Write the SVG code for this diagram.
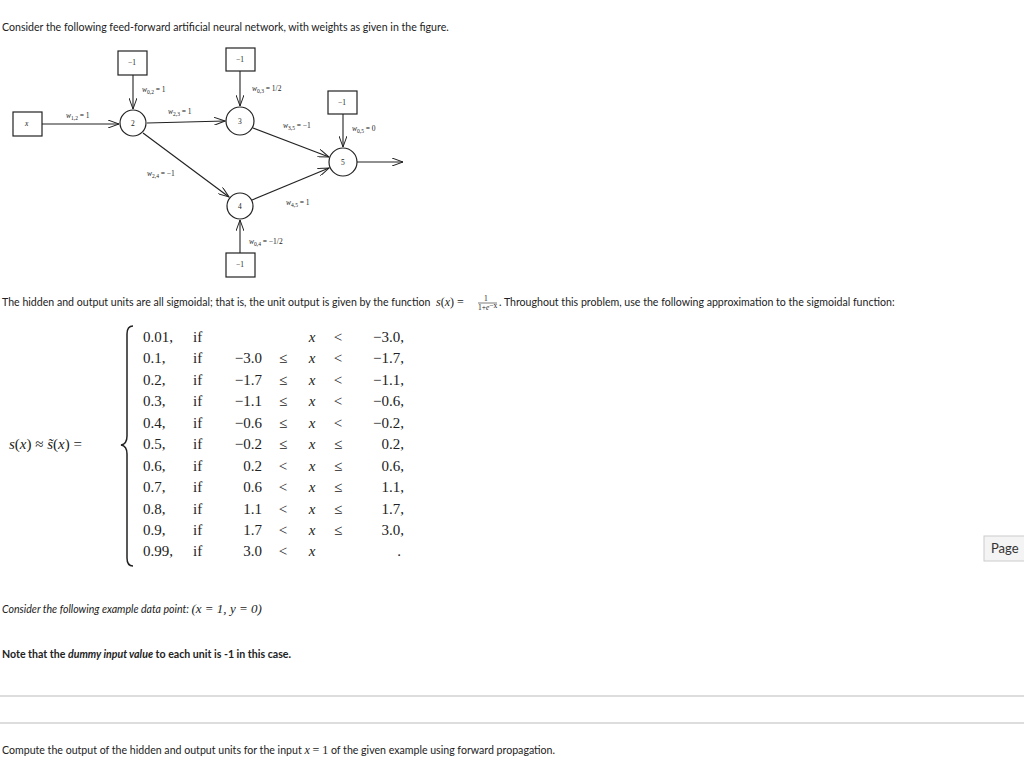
<svg xmlns="http://www.w3.org/2000/svg" width="1024" height="782" viewBox="0 0 1024 782">
<style>
.t{font-family:Lato,"Liberation Sans",sans-serif;font-size:10.6px;fill:#222}
.m{font-family:"Liberation Serif",serif;font-size:15px;fill:#222}
.mi{font-family:"Liberation Serif",serif;font-size:15px;font-style:italic;fill:#222}
.s{font-family:"Liberation Serif",serif;font-size:7.5px;fill:#222}
.si{font-family:"Liberation Serif",serif;font-size:7.5px;font-style:italic;fill:#222}
.n rect,.n circle{fill:#fff;stroke:#222;stroke-width:1.2}
.c line{stroke:#222;stroke-width:1.1;marker-end:url(#a)}
.sub{font-size:5.5px}
</style>
<defs><marker id="a" markerWidth="12" markerHeight="8" refX="11" refY="4" orient="auto" markerUnits="userSpaceOnUse"><path d="M0,0 L11,4 L0,8" fill="none" stroke="#222" stroke-width="1"/></marker></defs>
<rect width="1024" height="782" fill="#fff"/>
<text class="t" x="2" y="31">Consider the following feed-forward artificial neural network, with weights as given in the figure.</text>
<g class="c">
<line x1="42" y1="124" x2="119" y2="124"/>
<line x1="133" y1="75" x2="133" y2="109"/>
<line x1="147" y1="123" x2="225" y2="121"/>
<line x1="240" y1="71" x2="240" y2="106"/>
<line x1="143" y1="133" x2="229" y2="197"/>
<line x1="253" y1="128" x2="329" y2="157"/>
<line x1="252" y1="200" x2="329" y2="168"/>
<line x1="240" y1="253" x2="240" y2="220"/>
<line x1="343" y1="114" x2="343" y2="147"/>
<line x1="357" y1="162" x2="403" y2="162"/>
</g>
<g id="nx" class="n"><rect x="13" y="112" width="29" height="24"/><text class="si" x="25" y="126">x</text></g>
<g id="b2" class="n"><rect x="118" y="51" width="29" height="24"/><text class="s" x="128" y="65">−1</text></g>
<g id="b3" class="n"><rect x="226" y="48" width="29" height="23"/><text class="s" x="236" y="62">−1</text></g>
<g id="b5" class="n"><rect x="328" y="91" width="29" height="23"/><text class="s" x="338" y="105">−1</text></g>
<g id="b4" class="n"><rect x="226" y="253" width="29" height="24"/><text class="s" x="236" y="267">−1</text></g>
<g id="n2" class="n"><circle cx="133" cy="123" r="13"/><text class="s" x="131" y="126">2</text></g>
<g id="n3" class="n"><circle cx="240" cy="121" r="14"/><text class="s" x="238" y="124">3</text></g>
<g id="n4" class="n"><circle cx="240" cy="206" r="13"/><text class="s" x="238" y="209">4</text></g>
<g id="n5" class="n"><circle cx="343" cy="162" r="14"/><text class="s" x="341" y="165">5</text></g>
<g id="labels">
<text class="s" x="66" y="118"><tspan font-style="italic">w</tspan><tspan class="sub" dy="1.5">1,2</tspan><tspan dy="-1.5"> = 1</tspan></text>
<text class="s" x="142" y="92"><tspan font-style="italic">w</tspan><tspan class="sub" dy="1.5">0,2</tspan><tspan dy="-1.5"> = 1</tspan></text>
<text class="s" x="168" y="114"><tspan font-style="italic">w</tspan><tspan class="sub" dy="1.5">2,3</tspan><tspan dy="-1.5"> = 1</tspan></text>
<text class="s" x="252" y="91"><tspan font-style="italic">w</tspan><tspan class="sub" dy="1.5">0,3</tspan><tspan dy="-1.5"> = 1/2</tspan></text>
<text class="s" x="283" y="128"><tspan font-style="italic">w</tspan><tspan class="sub" dy="1.5">3,5</tspan><tspan dy="-1.5"> = −1</tspan></text>
<text class="s" x="352" y="131"><tspan font-style="italic">w</tspan><tspan class="sub" dy="1.5">0,5</tspan><tspan dy="-1.5"> = 0</tspan></text>
<text class="s" x="147" y="176"><tspan font-style="italic">w</tspan><tspan class="sub" dy="1.5">2,4</tspan><tspan dy="-1.5"> = −1</tspan></text>
<text class="s" x="286" y="205"><tspan font-style="italic">w</tspan><tspan class="sub" dy="1.5">4,5</tspan><tspan dy="-1.5"> = 1</tspan></text>
<text class="s" x="249" y="244"><tspan font-style="italic">w</tspan><tspan class="sub" dy="1.5">0,4</tspan><tspan dy="-1.5"> = −1/2</tspan></text>
</g>
<text class="t" x="2" y="306">The hidden and output units are all sigmoidal; that is, the unit output is given by the function</text>
<text x="436" y="306" font-family="Liberation Serif" font-size="12" fill="#222"><tspan font-style="italic">s</tspan>(<tspan font-style="italic">x</tspan>) =</text>
<text class="s" x="484" y="301">1</text>
<line x1="478" y1="303" x2="497" y2="303" stroke="#222" stroke-width="0.6"/>
<text class="s" x="478" y="310" font-size="6">1+<tspan font-style="italic">e</tspan><tspan dy="-2">−x</tspan></text>
<text class="t" x="499" y="306">. Throughout this problem, use the following approximation to the sigmoidal function:</text>
<text class="mi" x="9" y="449">s<tspan font-style="normal">(</tspan>x<tspan font-style="normal">) ≈ </tspan>s̃<tspan font-style="normal">(</tspan>x<tspan font-style="normal">) =</tspan></text>
<path d="M133,326 Q127,326 127,334 L127,436 Q127,444 121,445 Q127,446 127,454 L127,558 Q127,566 133,566" fill="none" stroke="#222" stroke-width="1.5"/>
<g class="m">
<text x="143" y="342">0.01,</text><text x="143" y="363">0.1,</text><text x="143" y="385">0.2,</text><text x="143" y="406">0.3,</text><text x="143" y="428">0.4,</text><text x="143" y="449">0.5,</text><text x="143" y="471">0.6,</text><text x="143" y="492">0.7,</text><text x="143" y="514">0.8,</text><text x="143" y="535">0.9,</text><text x="143" y="556">0.99,</text>
</g>
<g class="m"><text x="193" y="342">if</text><text x="193" y="363">if</text><text x="193" y="385">if</text><text x="193" y="406">if</text><text x="193" y="428">if</text><text x="193" y="449">if</text><text x="193" y="471">if</text><text x="193" y="492">if</text><text x="193" y="514">if</text><text x="193" y="535">if</text><text x="193" y="556">if</text></g>
<g class="m" text-anchor="end"><text x="262" y="363">−3.0</text><text x="262" y="385">−1.7</text><text x="262" y="406">−1.1</text><text x="262" y="428">−0.6</text><text x="262" y="449">−0.2</text><text x="262" y="471">0.2</text><text x="262" y="492">0.6</text><text x="262" y="514">1.1</text><text x="262" y="535">1.7</text><text x="262" y="556">3.0</text></g>
<g class="m" text-anchor="middle"><text x="283" y="363">≤</text><text x="283" y="385">≤</text><text x="283" y="406">≤</text><text x="283" y="428">≤</text><text x="283" y="449">≤</text><text x="283" y="471">&lt;</text><text x="283" y="492">&lt;</text><text x="283" y="514">&lt;</text><text x="283" y="535">&lt;</text><text x="283" y="556">&lt;</text></g>
<g class="mi" text-anchor="middle"><text x="312" y="342">x</text><text x="312" y="363">x</text><text x="312" y="385">x</text><text x="312" y="406">x</text><text x="312" y="428">x</text><text x="312" y="449">x</text><text x="312" y="471">x</text><text x="312" y="492">x</text><text x="312" y="514">x</text><text x="312" y="535">x</text><text x="312" y="556">x</text></g>
<g class="m" text-anchor="middle"><text x="338" y="342">&lt;</text><text x="338" y="363">&lt;</text><text x="338" y="385">&lt;</text><text x="338" y="406">&lt;</text><text x="338" y="428">&lt;</text><text x="338" y="449">≤</text><text x="338" y="471">≤</text><text x="338" y="492">≤</text><text x="338" y="514">≤</text><text x="338" y="535">≤</text></g>
<g class="m" text-anchor="end"><text x="404" y="342">−3.0,</text><text x="404" y="363">−1.7,</text><text x="404" y="385">−1.1,</text><text x="404" y="406">−0.6,</text><text x="404" y="428">−0.2,</text><text x="404" y="449">0.2,</text><text x="404" y="471">0.6,</text><text x="404" y="492">1.1,</text><text x="404" y="514">1.7,</text><text x="404" y="535">3.0,</text><text x="401" y="556">.</text></g>
<text class="t" x="2" y="613" font-style="italic">Consider the following example data point: <tspan font-family="Liberation Serif" font-size="13">(<tspan font-style="italic">x</tspan> = 1, <tspan font-style="italic">y</tspan> = 0)</tspan></text>
<text class="t" x="2" y="658" font-weight="bold">Note that the <tspan font-style="italic">dummy input value</tspan> to each unit is -1 in this case.</text>
<line x1="0" y1="696" x2="1024" y2="696" stroke="#bbb"/>
<line x1="0" y1="723" x2="1024" y2="723" stroke="#bbb"/>
<text class="t" x="2" y="754">Compute the output of the hidden and output units for the input <tspan font-family="Liberation Serif" font-style="italic" font-size="12">x</tspan> <tspan font-family="Liberation Serif" font-size="12">= 1</tspan> of the given example using forward propagation.</text>
<rect x="984" y="536" width="44" height="25" fill="#f4f4f4" stroke="#ccc"/>
<text x="991" y="553" font-family="Lato,sans-serif" font-size="13" fill="#333">Page</text>
</svg>
